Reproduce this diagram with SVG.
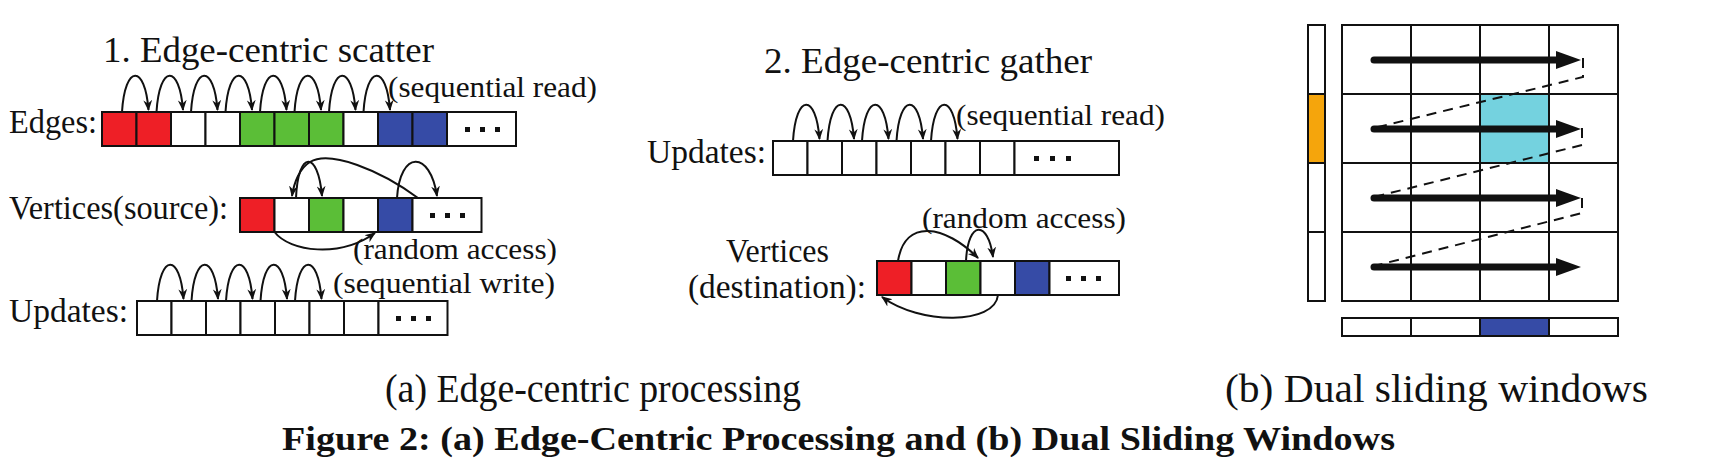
<svg xmlns="http://www.w3.org/2000/svg" width="1731" height="473" viewBox="0 0 1731 473">
<style>
.t{font-family:"Liberation Serif",serif;fill:#111}
.c{stroke:#111;stroke-width:2}
.arc{fill:none;stroke:#111;stroke-width:2}
.r{fill:#EE1F26}.g{fill:#5BBE37}.b{fill:#364BA6}.w{fill:#fff}
.dot{fill:#111}
.big{stroke:#111;stroke-width:7;stroke-linecap:round}
.dash{fill:none;stroke:#111;stroke-width:2;stroke-dasharray:10,7}
</style>
<defs>
<marker id="ah" viewBox="0 0 10 10" refX="9" refY="5" markerWidth="11" markerHeight="11" markerUnits="userSpaceOnUse" orient="auto"><path d="M0,1 L10,5 L0,9 L3,5 Z" fill="#111"/></marker>
</defs>
<rect width="1731" height="473" fill="#fff"/>

<g id="scatter">
<text class="t" x="103" y="62" font-size="35" textLength="331" lengthAdjust="spacingAndGlyphs">1. Edge-centric scatter</text>
<text class="t" x="9" y="133" font-size="33" textLength="88" lengthAdjust="spacingAndGlyphs">Edges:</text>
<g class="c">
<rect class="r" x="102" y="112" width="34.5" height="34"/><rect class="r" x="136.5" y="112" width="34.5" height="34"/>
<rect class="w" x="171" y="112" width="34.5" height="34"/><rect class="w" x="205.5" y="112" width="34.5" height="34"/>
<rect class="g" x="240" y="112" width="34.5" height="34"/><rect class="g" x="274.5" y="112" width="34.5" height="34"/>
<rect class="g" x="309" y="112" width="34.5" height="34"/><rect class="w" x="343.5" y="112" width="34.5" height="34"/>
<rect class="b" x="378" y="112" width="34.5" height="34"/><rect class="b" x="412.5" y="112" width="34.5" height="34"/>
<rect class="w" x="447" y="112" width="69" height="34"/>
</g>
<rect class="dot" x="465" y="127" width="5" height="5"/><rect class="dot" x="480" y="127" width="5" height="5"/><rect class="dot" x="495" y="127" width="5" height="5"/>
<text class="t" x="388" y="97" font-size="30" textLength="209" lengthAdjust="spacingAndGlyphs">(sequential read)</text>

<text class="t" x="9" y="219" font-size="33" textLength="219" lengthAdjust="spacingAndGlyphs">Vertices(source):</text>
<g class="c">
<rect class="r" x="240" y="198" width="34.5" height="34"/><rect class="w" x="274.5" y="198" width="34.5" height="34"/>
<rect class="g" x="309" y="198" width="34.5" height="34"/><rect class="w" x="343.5" y="198" width="34.5" height="34"/>
<rect class="b" x="378" y="198" width="34.5" height="34"/><rect class="w" x="412.5" y="198" width="69" height="34"/>
</g>
<rect class="dot" x="430" y="213" width="5" height="5"/><rect class="dot" x="445" y="213" width="5" height="5"/><rect class="dot" x="460" y="213" width="5" height="5"/>
<text class="t" x="353" y="259" font-size="30" textLength="204" lengthAdjust="spacingAndGlyphs">(random access)</text>

<text class="t" x="9" y="322" font-size="33" textLength="119" lengthAdjust="spacingAndGlyphs">Updates:</text>
<g class="c">
<rect class="w" x="137" y="301" width="34.5" height="34"/><rect class="w" x="171.5" y="301" width="34.5" height="34"/>
<rect class="w" x="206" y="301" width="34.5" height="34"/><rect class="w" x="240.5" y="301" width="34.5" height="34"/>
<rect class="w" x="275" y="301" width="34.5" height="34"/><rect class="w" x="309.5" y="301" width="34.5" height="34"/>
<rect class="w" x="344" y="301" width="34.5" height="34"/><rect class="w" x="378.5" y="301" width="69" height="34"/>
</g>
<rect class="dot" x="396" y="316" width="5" height="5"/><rect class="dot" x="411" y="316" width="5" height="5"/><rect class="dot" x="426" y="316" width="5" height="5"/>
<text class="t" x="333" y="293" font-size="30" textLength="222" lengthAdjust="spacingAndGlyphs">(sequential write)</text>
</g>

<g id="gather">
<text class="t" x="764" y="73" font-size="35" textLength="328" lengthAdjust="spacingAndGlyphs">2. Edge-centric gather</text>
<text class="t" x="647" y="163" font-size="33" textLength="119" lengthAdjust="spacingAndGlyphs">Updates:</text>
<g class="c">
<rect class="w" x="773" y="141" width="34.5" height="34"/><rect class="w" x="807.5" y="141" width="34.5" height="34"/>
<rect class="w" x="842" y="141" width="34.5" height="34"/><rect class="w" x="876.5" y="141" width="34.5" height="34"/>
<rect class="w" x="911" y="141" width="34.5" height="34"/><rect class="w" x="945.5" y="141" width="34.5" height="34"/>
<rect class="w" x="980" y="141" width="34.5" height="34"/><rect class="w" x="1014.5" y="141" width="104.5" height="34"/>
</g>
<rect class="dot" x="1034" y="156" width="5" height="5"/><rect class="dot" x="1050" y="156" width="5" height="5"/><rect class="dot" x="1066" y="156" width="5" height="5"/>
<text class="t" x="956" y="125" font-size="30" textLength="209" lengthAdjust="spacingAndGlyphs">(sequential read)</text>

<text class="t" x="726" y="262" font-size="33" textLength="103" lengthAdjust="spacingAndGlyphs">Vertices</text>
<text class="t" x="688" y="298" font-size="33" textLength="178" lengthAdjust="spacingAndGlyphs">(destination):</text>
<g class="c">
<rect class="r" x="877" y="261" width="34.5" height="34"/><rect class="w" x="911.5" y="261" width="34.5" height="34"/>
<rect class="g" x="946" y="261" width="34.5" height="34"/><rect class="w" x="980.5" y="261" width="34.5" height="34"/>
<rect class="b" x="1015" y="261" width="34.5" height="34"/><rect class="w" x="1049.5" y="261" width="69.5" height="34"/>
</g>
<rect class="dot" x="1066" y="276" width="5" height="5"/><rect class="dot" x="1081" y="276" width="5" height="5"/><rect class="dot" x="1096" y="276" width="5" height="5"/>
<text class="t" x="922" y="228" font-size="30" textLength="204" lengthAdjust="spacingAndGlyphs">(random access)</text>
</g>

<g id="connectors" class="arc" marker-end="url(#ah)">
<path d="M122,112 C125,64 145,64 148.5,110"/>
<path d="M156.5,112 C159.5,64 179.5,64 183,110"/>
<path d="M191,112 C194,64 214,64 217.5,110"/>
<path d="M225.5,112 C228.5,64 248.5,64 252,110"/>
<path d="M260,112 C263,64 283,64 286.5,110"/>
<path d="M294.5,112 C297.5,64 317.5,64 321,110"/>
<path d="M329,112 C332,64 352,64 355.5,110"/>
<path d="M363.5,112 C366.5,64 386.5,64 390,110"/>

<path d="M296,198 C298,150 318,150 322,196"/>
<path d="M397,198 C400,150 430,150 437,196"/>
<path d="M418,198 C380,170 330,150 310,162 C300,168 294,182 292,196"/>
<path d="M274.5,232 C290,252 340,258 375,233"/>

<path d="M157,301 C160,253 180,253 183.5,299"/>
<path d="M191.5,301 C194.5,253 214.5,253 218,299"/>
<path d="M226,301 C229,253 249,253 252.5,299"/>
<path d="M260.5,301 C263.5,253 283.5,253 287,299"/>
<path d="M295,301 C298,253 318,253 321.5,299"/>

<path d="M793,141 C796,93 816,93 819.5,139"/>
<path d="M827.5,141 C830.5,93 850.5,93 854,139"/>
<path d="M862,141 C865,93 885,93 888.5,139"/>
<path d="M896.5,141 C899.5,93 919.5,93 923,139"/>
<path d="M931,141 C934,93 954,93 957.5,139"/>

<path d="M898,261 C905,218 945,225 978,258"/>
<path d="M966,261 C968,220 988,220 993,257"/>
<path d="M998,295 C995,325 920,325 882,297"/>
</g>

<g id="windows">
<g class="c">
<rect class="w" x="1308" y="25" width="17" height="69"/>
<rect fill="#F5A50C" x="1308" y="94" width="17" height="69"/>
<rect class="w" x="1308" y="163" width="17" height="69"/>
<rect class="w" x="1308" y="232" width="17" height="69"/>
<rect class="w" x="1342" y="25" width="276" height="276"/>
<rect fill="#74D2DF" x="1480" y="94" width="69" height="69"/>
<path d="M1411,25V301M1480,25V301M1549,25V301M1342,94H1618M1342,163H1618M1342,232H1618" fill="none"/>
<rect class="w" x="1342" y="318" width="69" height="18"/><rect class="w" x="1411" y="318" width="69" height="18"/>
<rect class="b" x="1480" y="318" width="69" height="18"/><rect class="w" x="1549" y="318" width="69" height="18"/>
</g>
<path class="dash" d="M1583,58V77L1374,128"/>
<path class="dash" d="M1582,128V145L1374,197"/>
<path class="dash" d="M1582,198V213L1374,266"/>
<g class="big">
<line x1="1374" y1="60" x2="1558" y2="60"/><line x1="1374" y1="129" x2="1558" y2="129"/>
<line x1="1374" y1="198" x2="1558" y2="198"/><line x1="1374" y1="267" x2="1558" y2="267"/>
</g>
<g fill="#111">
<path d="M1556,51L1581,60L1556,69Z"/><path d="M1556,120L1581,129L1556,138Z"/>
<path d="M1556,189L1581,198L1556,207Z"/><path d="M1556,258L1581,267L1556,276Z"/>
</g>
</g>

<g id="captions">
<text class="t" x="385" y="402" font-size="40" textLength="416" lengthAdjust="spacingAndGlyphs">(a) Edge-centric processing</text>
<text class="t" x="1225" y="402" font-size="40" textLength="423" lengthAdjust="spacingAndGlyphs">(b) Dual sliding windows</text>
<text class="t" x="282" y="450" font-size="34" font-weight="bold" textLength="1113" lengthAdjust="spacingAndGlyphs">Figure 2: (a) Edge-Centric Processing and (b) Dual Sliding Windows</text>
</g>
</svg>
